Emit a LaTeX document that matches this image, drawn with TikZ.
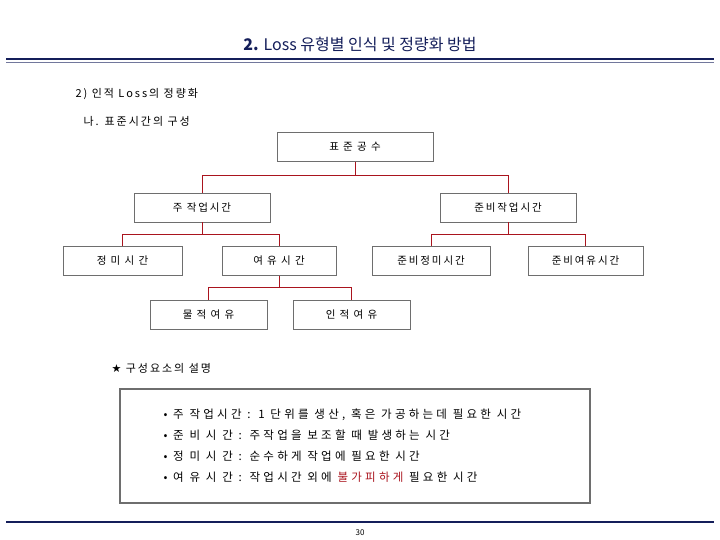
\documentclass[tikz,border=0pt]{standalone}
\usepackage{fontspec}
\setmainfont{Noto Sans CJK KR}
\newfontfamily\ks[LetterSpace=18]{Noto Sans CJK KR}
\newfontfamily\kw[LetterSpace=28]{Noto Sans CJK KR}
\definecolor{navy}{RGB}{20,30,90}
\definecolor{conn}{RGB}{170,20,30}
\definecolor{bx}{RGB}{110,110,110}
\begin{document}
\begin{tikzpicture}[x=1pt,y=-1pt,
  bxs/.style={draw=bx,line width=0.8pt,fill=white,minimum height=29pt,font=\ks\fontsize{10.5}{12}\selectfont,inner sep=0pt},
  cn/.style={draw=conn,line width=1pt}]
\useasboundingbox (0,0) rectangle (720,540);
\node[font=\fontsize{16}{19}\selectfont,text=navy] (title) at (360,44) {\textbf{2.} Loss 유형별 인식 및 정량화 방법};
\draw[navy,line width=2pt] (6,59) -- (714,59);
\draw[navy!60,line width=0.8pt] (6,62.5) -- (714,62.5);
\node[anchor=west,font=\ks\fontsize{11}{13}\selectfont] (s1) at (72,94) {2) 인적 Loss의 정량화};
\node[anchor=west,font=\ks\fontsize{11}{13}\selectfont] (s2) at (80,121) {나. 표준시간의 구성};
\node[bxs,minimum width=156pt] (top) at (355,147) {표 준 공 수};
\node[bxs,minimum width=136pt] (main) at (202,207.5) {주 작업시간};
\node[bxs,minimum width=136pt] (prep) at (508,207.5) {준비작업시간};
\node[bxs,minimum width=119pt] (a) at (122.5,261) {정 미 시 간};
\node[bxs,minimum width=114pt] (b) at (279,261) {여 유 시 간};
\node[bxs,minimum width=118pt] (c) at (431,261) {준비정미시간};
\node[bxs,minimum width=115pt] (d) at (585.5,261) {준비여유시간};
\node[bxs,minimum width=117pt] (e) at (208.5,314.5) {물 적 여 유};
\node[bxs,minimum width=117pt] (f) at (351.5,314.5) {인 적 여 유};
\draw[cn] (top.south) -- ++(0,14) -| (main.north);
\draw[cn] (top.south) ++(0,14) -| (prep.north);
\draw[cn] (main.south) -- ++(0,12) -| (a.north);
\draw[cn] (main.south) ++(0,12) -| (b.north);
\draw[cn] (prep.south) -- ++(0,12) -| (c.north);
\draw[cn] (prep.south) ++(0,12) -| (d.north);
\draw[cn] (b.south) -- ++(0,12) -| (e.north);
\draw[cn] (b.south) ++(0,12) -| (f.north);
\node[anchor=west,font=\ks\fontsize{11}{13}\selectfont] (star) at (108,368) {{\fontspec{DejaVu Sans}★} 구성요소의 설명};
\node[draw=bx,line width=1.5pt,minimum width=470pt,minimum height=114pt] (desc) at (355,446) {};
\node[anchor=west,font=\kw\fontsize{11.5}{13}\selectfont,align=left] (txt) at (160,446) {%
• 주 작업시간 : 1 단위를 생산, 혹은 가공하는데 필요한 시간\\[8pt]
• 준 비 시 간 : 주작업을 보조할 때 발생하는 시간\\[8pt]
• 정 미 시 간 : 순수하게 작업에 필요한 시간\\[8pt]
• 여 유 시 간 : 작업시간 외에 \textcolor{conn}{불가피하게} 필요한 시간};
\draw[navy,line width=1.5pt] (6,522) -- (714,522);
\node[font=\fontsize{8}{10}\selectfont] (pg) at (360,533) {30};
\end{tikzpicture}
\end{document}
